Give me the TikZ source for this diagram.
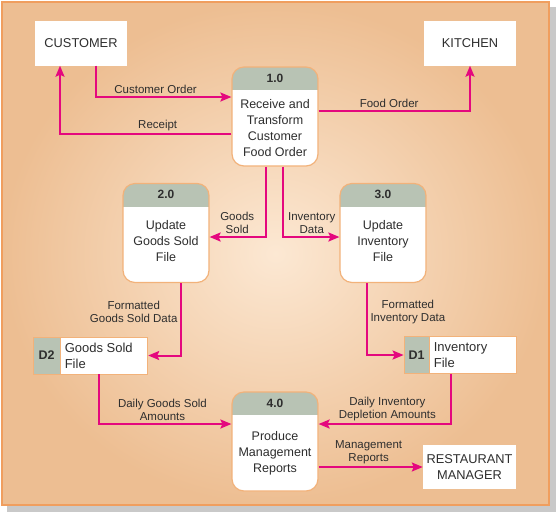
\documentclass[tikz,border=0pt]{standalone}
\usepackage{fontspec}
\setmainfont{Liberation Sans}
\usepackage{xcolor}
\usetikzlibrary{arrows.meta, positioning}

\definecolor{flowpink}{HTML}{E4087E}
\definecolor{hdrgray}{HTML}{B8C3B4}
\definecolor{procline}{HTML}{F2B27A}
\definecolor{bgin}{HTML}{FCE8D3}
\definecolor{bgout}{HTML}{EDBE92}
\definecolor{bgline}{HTML}{F09E5E}
\definecolor{shadowgray}{HTML}{C9C9C9}
\definecolor{txt}{HTML}{2E2E2E}

\begin{document}
\begin{tikzpicture}[
  x=1pt, y=-1pt,
  every node/.style={font=\fontsize{11.5}{13}\selectfont, text=txt},
  ent/.style={rectangle, fill=white, minimum width=92pt, minimum height=45pt,
              align=center, inner sep=2pt, font=\fontsize{12.8}{16}\selectfont},
  proc/.style={rectangle, rounded corners=12pt, draw=procline, line width=1.2pt,
               fill=white, minimum width=86pt, minimum height=99pt, inner sep=0pt,
               path picture={\fill[hdrgray, sharp corners]
                 (path picture bounding box.north west) rectangle
                 ([yshift=-23pt]path picture bounding box.north east);}},
  procnum/.style={minimum width=86pt, minimum height=23pt, inner sep=0pt,
                  font=\fontsize{12}{14}\selectfont\bfseries},
  proctext/.style={minimum width=86pt, minimum height=76pt, inner sep=0pt,
                   align=center, font=\fontsize{12.5}{16}\selectfont},
  storeid/.style={rectangle, fill=hdrgray, draw=procline, line width=0.8pt,
                  minimum width=27pt, minimum height=37pt, inner sep=0pt,
                  font=\fontsize{12.5}{15}\selectfont\bfseries},
  store/.style={rectangle, fill=white, draw=procline, line width=0.8pt,
                text width=79pt, inner xsep=4pt, inner ysep=0pt,
                minimum height=37pt, align=flush left,
                font=\fontsize{13}{16}\selectfont},
  flow/.style={-{Stealth[length=11pt, width=9pt, inset=2pt]}, line width=2pt,
               draw=flowpink},
  lbl/.style={align=center, inner sep=2.5pt}
]
\useasboundingbox (0,0) rectangle (556,512);

% --- Panel ---
\fill[shadowgray] (7,7) rectangle (556,512);
\path[draw=bgline, line width=1.5pt, inner color=bgin, outer color=bgout]
  (2,2) rectangle (549,505);

% --- External entities ---
\node[ent] (cust)    at (81,43)  {CUSTOMER};
\node[ent] (kitchen) at (470,43) {KITCHEN};
\node[ent, minimum width=93pt, minimum height=44pt] (mgr) at (469.5,467)
  {RESTAURANT\\MANAGER};

% --- Processes ---
\node[proc] (p1) at (275,116.5) {};
\node[procnum, below=0pt of p1.north] (p1num) {1.0};
\node[proctext, below=0pt of p1num] (p1txt) {Receive and\\Transform\\Customer\\Food Order};

\node[proc] (p2) at (166,233) {};
\node[procnum, below=0pt of p2.north] (p2num) {2.0};
\node[proctext, below=0pt of p2num, yshift=3pt] (p2txt) {Update\\Goods Sold\\File};

\node[proc] (p3) at (383,233) {};
\node[procnum, below=0pt of p3.north] (p3num) {3.0};
\node[proctext, below=0pt of p3num, yshift=3pt] (p3txt) {Update\\Inventory\\File};

\node[proc] (p4) at (275,441.5) {};
\node[procnum, below=0pt of p4.north] (p4num) {4.0};
\node[proctext, below=0pt of p4num] (p4txt) {Produce\\Management\\Reports};

% --- Data stores ---
\node[storeid] (d2id) at (46.5,355.5) {D2};
\node[store, right=0pt of d2id] (d2) {Goods Sold\\File};
\node[storeid, minimum width=25pt] (d1id) at (416.5,355) {D1};
\node[store, right=0pt of d1id] (d1) {Inventory\\File};

% --- Data flows ---
\draw[flow] ([xshift=15pt]cust.south) |- node[lbl, above, pos=0.72] (lcust) {Customer Order} ([yshift=19.5pt]p1.west);
\draw[flow] ([yshift=-17.5pt]p1.west) -| node[lbl, above, pos=0.215] (lreceipt) {Receipt} ([xshift=-21pt]cust.south);
\draw[flow] ([yshift=5.5pt]p1.east) -| node[lbl, above, pos=0.233] (lfood) {Food Order} (kitchen.south);
\draw[flow] ([xshift=-9pt]p1.south) |- node[lbl, above, pos=0.755] (lgoods) {Goods\\Sold} ([yshift=-4pt]p2.east);
\draw[flow] ([xshift=8pt]p1.south) |- node[lbl, above, pos=0.755] (linv) {Inventory\\Data} ([yshift=-4pt]p3.west);
\draw[flow] ([xshift=15pt]p2.south) |- node[lbl, left, pos=0.2] (lfgs) {Formatted\\Goods Sold Data} (d2.east);
\draw[flow] ([xshift=-16pt]p3.south) |- node[lbl, right, pos=0.2] (lfinv) {Formatted\\Inventory Data} (d1id.west);
\draw[flow] ([xshift=-5.5pt]d2.south) |- node[lbl, above, pos=0.74] (ldgs) {Daily Goods Sold\\Amounts} ([yshift=17.5pt]p4.west);
\draw[flow] ([xshift=-22.5pt]d1.south) |- node[lbl, above, pos=0.74] (ldinv) {Daily Inventory\\Depletion Amounts} ([yshift=17.5pt]p4.east);
\draw[flow] ([yshift=-25.5pt]p4.east) -- node[lbl, above, pos=0.48] (lmgr) {Management\\Reports} (mgr.west);

\end{tikzpicture}
\end{document}
